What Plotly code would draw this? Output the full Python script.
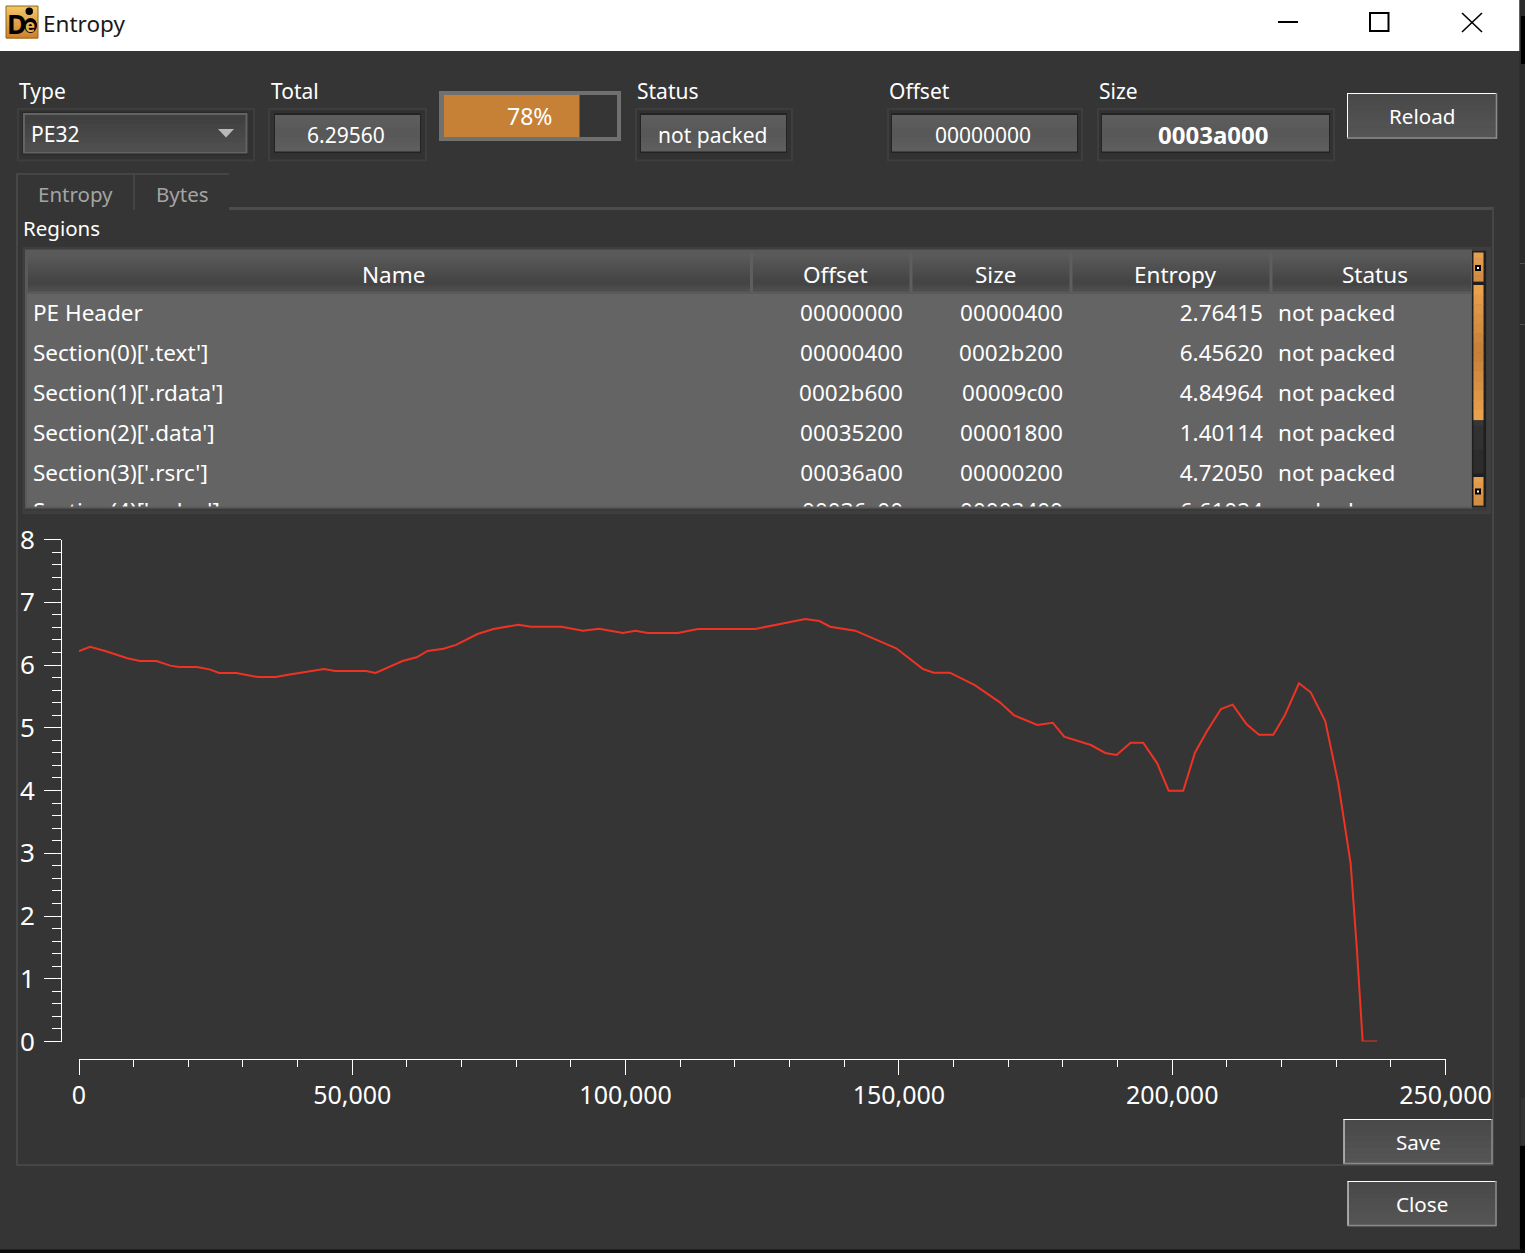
import plotly.graph_objects as go

# ---------- chart data ----------
offsets = [0, 2050, 4923, 8858, 11146, 14202, 16691, 18320, 21596, 23884, 25641, 28789, 32706, 35963,
           38270, 42186, 44803, 46890, 52508, 54265, 59189, 61769, 63764, 66693, 68980, 72915, 75844,
           80420, 82707, 88271, 92187, 95134, 99508, 101796, 104083, 109519, 113235, 123703, 127620,
           132854, 135453, 137430, 142005, 149508, 154414, 156372, 159319, 163894, 168470, 171087,
           175333, 178151, 180241, 185125, 187761, 189829, 192391, 194697, 197259, 199346, 202017,
           204159, 206300, 208917, 211059, 213621, 215873, 218489, 220630, 223192, 225334, 228001,
           230384, 232643, 233757, 234846, 237500]
entropy = [6.223, 6.29, 6.22, 6.107, 6.064, 6.064, 5.99, 5.968, 5.968, 5.93, 5.873, 5.873, 5.809, 5.809,
           5.846, 5.904, 5.936, 5.904, 5.904, 5.873, 6.064, 6.122, 6.223, 6.26, 6.32, 6.494, 6.574,
           6.643, 6.61, 6.61, 6.547, 6.579, 6.51, 6.547, 6.51, 6.51, 6.574, 6.574, 6.637,
           6.733, 6.70, 6.61, 6.547, 6.266, 5.936, 5.877, 5.877, 5.68, 5.405, 5.198,
           5.044, 5.08, 4.857, 4.725, 4.598, 4.566, 4.762, 4.762, 4.433, 3.997, 3.997,
           4.602, 4.937, 5.299, 5.368, 5.054, 4.89, 4.89, 5.203, 5.708, 5.565, 5.107,
           4.115, 2.84, 1.511, 0.0, 0.0]

# ---------- table data ----------
col_titles = ["Name", "Offset", "Size", "Entropy", "Status"]
row_names = ["PE Header", "Section(0)['.text']", "Section(1)['.rdata']", "Section(2)['.data']",
             "Section(3)['.rsrc']", "Section(4)['.reloc']"]
row_offsets = ["00000000", "00000400", "0002b600", "00035200", "00036a00", "00036c00"]
row_sizes = ["00000400", "0002b200", "00009c00", "00001800", "00000200", "00003400"]
row_entropy = ["2.76415", "6.45620", "4.84964", "1.40114", "4.72050", "6.61024"]
row_status = ["not packed", "not packed", "not packed", "not packed", "not packed", "packed"]

W, H = 1525, 1253
FONT = "Noto Sans"
WIN = "#353535"
shapes, annots = [], []


def fx(x):
    return x / W


def fy(y):
    return 1 - y / H


def rect(x0, y0, x1, y1, fill, line=None, lw=1):
    shapes.append(dict(type="rect", xref="paper", yref="paper", x0=fx(x0), x1=fx(x1), y0=fy(y0), y1=fy(y1),
                       fillcolor=fill, line=dict(color=line, width=lw) if line else dict(width=0),
                       layer="below"))


def seg(x0, y0, x1, y1, color, lw=1):
    shapes.append(dict(type="line", xref="paper", yref="paper", x0=fx(x0), x1=fx(x1), y0=fy(y0), y1=fy(y1),
                       line=dict(color=color, width=lw), layer="below"))


def mix(a, b, t):
    ca = [int(a[i:i + 2], 16) for i in (1, 3, 5)]
    cb = [int(b[i:i + 2], 16) for i in (1, 3, 5)]
    return "#%02x%02x%02x" % tuple(round(p + (q - p) * t) for p, q in zip(ca, cb))


def grad(x0, y0, x1, y1, stops, n=14):
    """Vertical gradient, stops = [(t, colour), ...]"""
    h = (y1 - y0) / n
    for i in range(n):
        t = (i + .5) / n
        for (t0, c0), (t1, c1) in zip(stops, stops[1:]):
            if t0 <= t <= t1:
                col = mix(c0, c1, (t - t0) / (t1 - t0))
                break
        rect(x0, y0 + i * h, x1, y0 + (i + 1) * h + .6, col)


def text(x, y, s, anchor="center", size=21, color="#ffffff", bold=False):
    annots.append(dict(x=fx(x), y=fy(y), xref="paper", yref="paper", text=f"<b>{s}</b>" if bold else s,
                       showarrow=False, xanchor=anchor, yanchor="middle", borderpad=0, borderwidth=0,
                       font=dict(family=FONT, size=size, color=color)))


def button(x0, y0, x1, y1, label, tx, ty):
    grad(x0, y0, x1, y1, [(0, "#484848"), (1, "#565656")], n=8)
    seg(x0, y0 + .5, x1, y0 + .5, "#ffffff", 1)
    seg(x0 + .5, y0, x0 + .5, y1, "#ffffff", 1)
    seg(x0, y1 - .5, x1, y1 - .5, "#8a8a8a", 1.6)
    seg(x1 - .5, y0, x1 - .5, y1, "#8a8a8a", 1.6)
    text(tx, ty, label, size=20.6)


def field(ox0, ox1, ix0, ix1, label, tx, bold=False, size=21):
    rect(ox0, 109, ox1, 160.5, "#323232", "#3e3e3e", 2)
    rect(ix0 - 1, 113, ix1 + 1, 153, "#232323")
    grad(ix0, 115, ix1, 151, [(0, "#5f5f5f"), (.5, "#575757"), (1, "#5f5f5f")], n=8)
    text(tx, 135, label, bold=bold, size=size)


# ---------- window frame ----------
rect(0, 0, 1519.5, 51, "#ffffff")
rect(1519.5, 0, W, H, "#2b2b2b")
rect(1521, 16, W, 64, "#000000")
rect(1521, 1098, W, 1145, "#333333")
rect(1520, 1146, W, H, "#000000")
rect(0, 1249.5, W, H, "#0c0c0c")
seg(1520, 263.5, W, 263.5, "#505050")
seg(1520, 324.5, W, 324.5, "#505050")

# logo
grad(6, 6, 38, 38, [(0, "#f2c766"), (1, "#cf7f2e")], n=10)
shapes.append(dict(type="rect", xref="paper", yref="paper", x0=fx(6), x1=fx(38), y0=fy(6), y1=fy(38),
                   line=dict(color="#8c6a22", width=1), layer="below"))
text(17, 23, "D", size=27, color="#000000", bold=True)
shapes.append(dict(type="circle", xref="paper", yref="paper", x0=fx(24), x1=fx(37), y0=fy(18), y1=fy(33),
                   fillcolor="#000000", line=dict(width=0), layer="below"))
shapes.append(dict(type="circle", xref="paper", yref="paper", x0=fx(25.5), x1=fx(33), y0=fy(7.5), y1=fy(15),
                   fillcolor="#000000", line=dict(width=0), layer="below"))
text(30, 26, "e", size=17, color="#e8b050", bold=True)
text(43, 24, "Entropy", "left", size=22.5, color="#1a1a1a")

# caption buttons
seg(1278, 22, 1298, 22, "#000000", 2)
shapes.append(dict(type="rect", xref="paper", yref="paper", x0=fx(1370), x1=fx(1388.5), y0=fy(13), y1=fy(31),
                   line=dict(color="#000000", width=2), layer="below"))
seg(1462, 13, 1482, 32, "#000000", 1.6)
seg(1482, 13, 1462, 32, "#000000", 1.6)

# ---------- top row ----------
for lx, lab in [(19, "Type"), (271, "Total"), (637, "Status"), (889, "Offset"), (1099, "Size")]:
    text(lx, 91, lab, "left")

rect(18, 109, 254, 160.5, "#323232", "#3e3e3e", 2)
rect(22, 112, 248, 155, "#2a2a2a")
grad(24, 115, 246, 151, [(0, "#3e3e3e"), (1, "#505050")], n=8)
shapes.append(dict(type="rect", xref="paper", yref="paper", x0=fx(24), x1=fx(246.5), y0=fy(114), y1=fy(152.5),
                   line=dict(color="#636363", width=2), layer="below"))
text(31, 134, "PE32", "left")
shapes.append(dict(type="path", xref="paper", yref="paper",
                   path=f"M {fx(218)} {fy(129)} L {fx(234)} {fy(129)} L {fx(226)} {fy(137.5)} Z",
                   fillcolor="#b9b9b9", line=dict(width=0), layer="below"))

field(269, 426, 275, 420, "6.29560", 346)
field(636, 792, 641, 786, "not packed", 712.5)
field(888, 1082, 892, 1077, "00000000", 983)
field(1098, 1334, 1102, 1329, "0003a000", 1212.5, bold=True, size=24)

rect(439, 91, 621, 141, "#707070")
rect(443.5, 95, 617, 137, WIN)
rect(443.5, 95, 579.5, 137, "#c68136")
text(529.5, 116, "78%", size=23)

button(1347, 93, 1497, 138.5, "Reload", 1421.5, 116)

# ---------- tab pane ----------
seg(16, 174, 229, 174, "#454545", 2)
seg(17, 174, 17, 1165, "#474747", 2)
seg(134, 174, 134, 210, "#454545", 2)
seg(229, 208.5, 1494, 208.5, "#4c4c4c", 3)
seg(1493, 208, 1493, 1165, "#464646", 2)
seg(16, 1165, 1494, 1165, "#464646", 2)
text(75, 194, "Entropy", color="#a4a4a4", size=20.5)
text(182, 194, "Bytes", color="#a4a4a4", size=20.5)
text(23, 228, "Regions", "left", size=20.5)

# ---------- table ----------
rect(22.5, 247, 1491, 514, "#3e3e3e")
rect(25, 249.5, 1487, 511, "#3a3a3a")
rect(25, 249.5, 1472, 508.5, "#5a5a5a")
grad(28, 254, 1471, 291, [(0, "#5b5b5b"), (.78, "#434343"), (1, "#505050")], n=14)
rect(27, 294, 1471, 506.5, "#646464")
for xd in (751.5, 911, 1071, 1271):
    seg(xd, 252, xd, 292, "#5e5e5e", 3)
for cx, lab in zip((393, 835, 995, 1175, 1375), col_titles):
    text(cx, 275, lab, size=22.5)

# scroll bar
rect(1472, 251, 1486, 507, "#1f1f1f")
grad(1473.5, 285, 1483.5, 473, [(0, "#262626"), (.5, "#3d3d3d"), (1, "#2a2a2a")], n=8)
grad(1473.5, 252.5, 1483.5, 281, [(0, "#e8a052"), (1, "#d08a42")], n=5)
grad(1473.5, 285, 1483.5, 419.5, [(0, "#eda24e"), (.5, "#c47f39"), (1, "#eda24e")], n=14)
grad(1473.5, 477, 1483.5, 505, [(0, "#e8a052"), (1, "#d08a42")], n=5)
for cy in (268, 491.5):
    rect(1475, cy - 3, 1481, cy + 3, "#000000")
    rect(1477, cy - 1, 1479, cy + 1, "#ffffff")

# ---------- buttons below ----------
button(1343.5, 1119, 1492.5, 1164, "Save", 1418, 1142.3)
button(1347.5, 1181, 1496.5, 1226, "Close", 1422, 1204.3)

# ---------- traces ----------
fig = go.Figure()
fig.add_trace(go.Scatter(x=offsets, y=entropy, mode="lines", line=dict(color="#ee3325", width=2),
                         hoverinfo="skip", showlegend=False))

row_y = [315 + 40 * i for i in range(len(row_names))]
row_y[-1] -= 2  # only the tops of the sixth row show above the clip edge
for col_x, pos, vals in [(33, "middle right", row_names), (903, "middle left", row_offsets),
                         (1063, "middle left", row_sizes), (1263, "middle left", row_entropy),
                         (1278, "middle right", row_status)]:
    fig.add_trace(go.Scatter(x=[col_x] * len(vals), y=row_y, text=vals, mode="text", textposition=pos,
                             textfont=dict(family=FONT, size=22.5, color="#ffffff"),
                             xaxis="x2", yaxis="y2", hoverinfo="skip", showlegend=False))

fig.update_layout(
    width=W, height=H, margin=dict(l=0, r=0, t=0, b=0, autoexpand=False),
    paper_bgcolor=WIN, plot_bgcolor="rgba(0,0,0,0)", showlegend=False,
    shapes=shapes, annotations=annots,
    xaxis=dict(domain=[fx(79), fx(1445.5)], range=[0, 250000], anchor="free", position=fy(1059),
               tickmode="linear", tick0=0, dtick=50000, tickformat=",", ticks="outside", ticklen=15,
               tickwidth=1, tickcolor="#ffffff", showline=True, linecolor="#ffffff", linewidth=1,
               showgrid=False, zeroline=False, tickfont=dict(family=FONT, size=25, color="#ffffff"),
               ticklabelstandoff=-1,
               minor=dict(dtick=10000, tick0=0, ticks="outside", ticklen=7, tickwidth=1, tickcolor="#ffffff",
                          showgrid=False)),
    yaxis=dict(domain=[fy(1041.5), fy(539.5)], range=[0, 8], anchor="free", position=fx(61),
               tickmode="linear", tick0=0, dtick=1, ticks="outside", ticklen=17,
               tickwidth=1, tickcolor="#ffffff", showline=True, linecolor="#ffffff", linewidth=1,
               showgrid=False, zeroline=False, tickfont=dict(family=FONT, size=26, color="#ffffff"),
               ticklabelstandoff=4,
               minor=dict(dtick=0.2, tick0=0, ticks="outside", ticklen=9, tickwidth=1, tickcolor="#ffffff",
                          showgrid=False)),
    xaxis2=dict(domain=[fx(27), fx(1471)], range=[27, 1471], anchor="y2", visible=False, fixedrange=True),
    yaxis2=dict(domain=[fy(506.5), fy(294)], range=[506.5, 294], anchor="x2", visible=False, fixedrange=True),
)

fig.write_html("out.html", config=dict(displayModeBar=False),
               post_script="document.body.style.margin='0';document.body.style.overflow='hidden';")
